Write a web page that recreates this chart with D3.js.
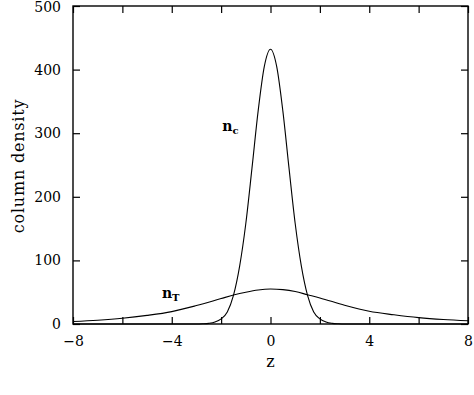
<!DOCTYPE html>
<html>
<head>
<meta charset="utf-8">
<script src="https://cdn.jsdelivr.net/npm/d3@7"></script>
<style>
  body { margin: 0; background: #fff; }
  text { font-family: "DejaVu Serif", serif; fill: #000; }
</style>
</head>
<body>
<div id="chart"></div>
<script>
// values
var zC = [-8, -6, -4, -3, -2.75, -2.5, -2.25, -2, -1.75, -1.5, -1.25, -1, -0.75, -0.5, -0.25, 0,
          0.25, 0.5, 0.75, 1, 1.25, 1.5, 1.75, 2, 2.25, 2.5, 2.75, 3, 4, 6, 8];
var nC = [0, 0, 0, 0, 0.3, 1, 3, 8, 19, 45, 91, 158, 245, 335, 405, 432,
          405, 335, 245, 158, 91, 45, 19, 8, 3, 1, 0.3, 0, 0, 0, 0];
var zT = [-8, -7, -6, -5, -4, -3, -2, -1.5, -1, -0.5, 0, 0.5, 1, 1.5, 2, 3, 4, 5, 6, 7, 8];
var nT = [4, 6, 9, 13.5, 19.5, 29, 40, 45.5, 50, 53.5, 55, 54, 51, 46, 41, 29.5, 20, 14.5, 10, 7, 5];
var xTicks = [-8, -6, -4, -2, 0, 2, 4, 6, 8];
var xLabels = [-8, -4, 0, 4, 8];
var yTicks = [0, 100, 200, 300, 400, 500];

var W = 474, H = 395;
var margin = {top: 6, right: 6, bottom: 71, left: 73};
var width = W - margin.left - margin.right;
var height = H - margin.top - margin.bottom;

var svg = d3.select("#chart").append("svg")
  .attr("width", W).attr("height", H);
var g = svg.append("g")
  .attr("transform", "translate(" + margin.left + "," + margin.top + ")");

var x = d3.scaleLinear().domain([-8, 8]).range([0, width]);
var y = d3.scaleLinear().domain([0, 500]).range([height, 0]);

var tickLen = 7;
var fmt = function(d) { return xLabels.indexOf(d) >= 0 ? d3.format("")(d).replace("-", "\u2212") : ""; };

// axes, ticks pointing inward
g.append("g").attr("transform", "translate(0," + height + ")")
  .call(d3.axisBottom(x).tickValues(xTicks).tickSizeInner(-tickLen).tickSizeOuter(0).tickPadding(12).tickFormat(fmt));
g.append("g")
  .call(d3.axisTop(x).tickValues(xTicks).tickSizeInner(-tickLen).tickSizeOuter(0).tickFormat(""));
var yAxis = g.append("g")
  .call(d3.axisLeft(y).tickValues(yTicks).tickSizeInner(-tickLen).tickSizeOuter(0).tickPadding(12));
g.append("g").attr("transform", "translate(" + width + ",0)")
  .call(d3.axisRight(y).tickValues(yTicks).tickSizeInner(-tickLen).tickSizeOuter(0).tickFormat(""));

g.selectAll(".tick text").style("font-size", "14px").style("font-family", "DejaVu Serif, serif");
g.selectAll(".tick line").attr("stroke", "#000").attr("stroke-width", 1.2);
g.selectAll(".domain").remove();
// keep the top label inside the page
yAxis.selectAll(".tick text").filter(d => d === 500).attr("dy", "0.32em").attr("y", 1.5);

g.append("rect")
  .attr("width", width).attr("height", height)
  .attr("fill", "none").attr("stroke", "#000").attr("stroke-width", 1.4);

var line = d3.line()
  .x(d => x(d[0]))
  .y(d => y(d[1]))
  .curve(d3.curveMonotoneX);

g.append("path")
  .datum(d3.zip(zT, nT))
  .attr("fill", "none").attr("stroke", "#000").attr("stroke-width", 1.1)
  .attr("d", line);

g.append("path")
  .datum(d3.zip(zC, nC))
  .attr("fill", "none").attr("stroke", "#000").attr("stroke-width", 1.1)
  .attr("d", line);

// curve labels
var lc = g.append("text").attr("x", x(-1.95)).attr("y", y(303))
  .style("font-size", "14px").style("font-weight", "bold");
lc.append("tspan").text("n");
lc.append("tspan").attr("dy", 3).style("font-size", "10px").text("c");

var lt = g.append("text").attr("x", x(-4.4)).attr("y", y(41))
  .style("font-size", "14px").style("font-weight", "bold");
lt.append("tspan").text("n");
lt.append("tspan").attr("dy", 3).style("font-size", "10px").text("T");

// axis titles
svg.append("text")
  .attr("x", margin.left + x(0)).attr("y", 367)
  .attr("text-anchor", "middle")
  .style("font-size", "16px")
  .text("z");

svg.append("text")
  .attr("transform", "translate(24,166) rotate(-90)")
  .attr("text-anchor", "middle")
  .style("font-size", "16px")
  .style("letter-spacing", "0.8px")
  .text("column density");
</script>
</body>
</html>
